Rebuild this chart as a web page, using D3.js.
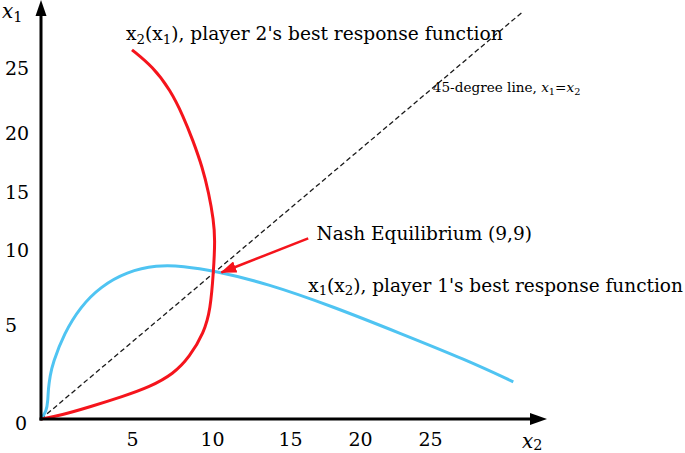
<!DOCTYPE html>
<html>
<head>
<meta charset="utf-8">
<script src="https://cdn.jsdelivr.net/npm/d3@7/dist/d3.min.js"></script>
<style>
body { margin: 0; background: #fff; }
text { font-family: "DejaVu Serif", serif; fill: #000; }
</style>
</head>
<body>
<div id="chart"></div>
<script>
var xTickValues = [5, 10, 15, 20, 25];
var yTickValues = [5, 10, 15, 20, 25];

// player 2's best response x2(x1), read from the top end down to the origin  [x2, x1]
var player2Curve = [[5.0, 26.4], [6.3, 25.1], [7.4, 23.3], [8.2, 21.3], [8.8, 19.4], [9.4, 17.1],
                    [9.8, 14.9], [10.1, 12.6], [10.2, 10.9], [10.1, 8.6], [9.9, 6.0], [9.5, 4.6],
                    [8.6, 3.3], [7.6, 2.4], [6.1, 1.7], [4.5, 1.2], [2.7, 0.65], [1.1, 0.2], [0, 0]];

// player 1's best response x1(x2)  [x2, x1]
var player1Curve = [[0, 0], [0.3, 0.4], [0.38, 1.0], [0.4, 1.6], [0.5, 2.3], [0.64, 2.96], [1.27, 4.56],
                    [2.17, 6.22], [3.26, 7.55], [4.71, 8.55], [6.54, 9.0], [8.21, 8.93], [10.1, 8.62],
                    [13.5, 7.78], [18.1, 6.22], [22.86, 4.56], [27.6, 3.14], [30.95, 1.98]];

// 45-degree line end points
var diagonalLine = [[0, 0], [31.6, 29.3]];

// arrow from the label to the equilibrium
var nashArrow = [[16.3, 11.0], [10.6, 8.5]];

var width = 685;
var height = 453;

var svgContainer = d3.select("#chart")
                     .append("svg")
                     .attr("width", width)
                     .attr("height", height);

// the drawing is hand made, so the scales follow where the tick labels sit
var xScale = d3.scaleLinear()
               .domain([0].concat(xTickValues))
               .range([41, 132, 212, 290, 360, 430]);
var yScale = d3.scaleLinear()
               .domain([0].concat(yTickValues))
               .range([419, 325, 250, 192, 133, 68]);

function curveLine(curve) {
  return d3.line()
           .x(function(d) { return xScale(d[0]); })
           .y(function(d) { return yScale(d[1]); })
           .curve(curve);
}

var defs = svgContainer.append("defs");
defs.append("marker")
    .attr("id", "redhead")
    .attr("markerUnits", "userSpaceOnUse")
    .attr("markerWidth", 16)
    .attr("markerHeight", 12)
    .attr("refX", 15)
    .attr("refY", 6)
    .attr("orient", "auto")
  .append("path")
    .attr("d", "M0,0 L16,6 L0,12 Z")
    .attr("fill", "#f5141c");

// dashed 45-degree line
svgContainer.append("path")
            .datum(diagonalLine)
            .attr("d", curveLine(d3.curveLinear))
            .attr("fill", "none")
            .attr("stroke", "#1a1a1a")
            .attr("stroke-width", 1.3)
            .attr("stroke-dasharray", "5,3");

svgContainer.append("path")
            .datum(player1Curve)
            .attr("d", curveLine(d3.curveBasis))
            .attr("fill", "none")
            .attr("stroke", "#4fc4f2")
            .attr("stroke-width", 3);

svgContainer.append("path")
            .datum(player2Curve)
            .attr("d", curveLine(d3.curveBasis))
            .attr("fill", "none")
            .attr("stroke", "#f5141c")
            .attr("stroke-width", 3);

svgContainer.append("line")
            .attr("x1", xScale(nashArrow[0][0]))
            .attr("y1", yScale(nashArrow[0][1]))
            .attr("x2", xScale(nashArrow[1][0]))
            .attr("y2", yScale(nashArrow[1][1]))
            .attr("stroke", "#f5141c")
            .attr("stroke-width", 2.5)
            .attr("marker-end", "url(#redhead)");

// axes with arrow heads
var x0 = xScale(0), y0 = yScale(0);
svgContainer.append("line")
            .attr("x1", x0).attr("y1", y0 + 1.5)
            .attr("x2", x0).attr("y2", 14)
            .attr("stroke", "#000").attr("stroke-width", 3);
svgContainer.append("path")
            .attr("d", "M" + x0 + ",0 L" + (x0 + 5.5) + ",16 L" + (x0 - 5.5) + ",16 Z")
            .attr("fill", "#000");
svgContainer.append("line")
            .attr("x1", x0 - 1.5).attr("y1", y0)
            .attr("x2", 533).attr("y2", y0)
            .attr("stroke", "#000").attr("stroke-width", 3);
svgContainer.append("path")
            .attr("d", "M547," + y0 + " L530," + (y0 - 6) + " L530," + (y0 + 6) + " Z")
            .attr("fill", "#000");

var xAxis = svgContainer.append("g")
                        .attr("transform", "translate(0," + y0 + ")")
                        .call(d3.axisBottom(xScale).tickValues(xTickValues).tickSize(0).tickPadding(14));
xAxis.select(".domain").remove();
xAxis.attr("font-size", 19);

var yAxis = svgContainer.append("g")
                        .attr("transform", "translate(" + x0 + ",0)")
                        .call(d3.axisLeft(yScale).tickValues(yTickValues).tickSize(0));
yAxis.select(".domain").remove();
yAxis.attr("font-size", 19);
yAxis.selectAll("text").attr("x", -36).attr("dy", "0.36em").attr("text-anchor", "start");

svgContainer.append("text")
            .attr("x", x0 - 26)
            .attr("y", y0 + 11)
            .attr("font-size", 19)
            .text("0");

// text with subscripts, parts are [string, subscript?, italic?]
function richText(x, y, size, parts, drop) {
  var shift = size * (drop || 0.2);
  var t = svgContainer.append("text")
                      .attr("x", x)
                      .attr("y", y)
                      .attr("font-size", size);
  var shifted = false;
  parts.forEach(function(p) {
    var s = t.append("tspan").text(p[0]);
    if (p[1]) {
      s.attr("font-size", size * 0.72).attr("dy", shifted ? 0 : shift);
      shifted = true;
    } else if (shifted) {
      s.attr("dy", -shift);
      shifted = false;
    }
    if (p[2]) s.attr("font-style", "italic");
  });
  return t;
}

// axis names
richText(x0 - 39, 18, 20, [["x", false, true], ["1", true]]);
richText(522, 448, 20, [["x", false, true], ["2", true]], 0.1);

richText(xScale(4.67), yScale(27.15), 18.6,
         [["x"], ["2", true], ["(x"], ["1", true], ["), player 2's best response function"]]);
richText(xScale(16.3), yScale(7.22), 18.5,
         [["x"], ["1", true], ["(x"], ["2", true], ["), player 1's best response function"]]);
richText(xScale(16.9), yScale(10.86), 18.5, [["Nash Equilibrium (9,9)"]]);
richText(xScale(25.2), yScale(23.15), 13.6,
         [["45-degree line, "], ["x", false, true], ["1", true], ["="], ["x", false, true], ["2", true]]);
</script>
</body>
</html>
